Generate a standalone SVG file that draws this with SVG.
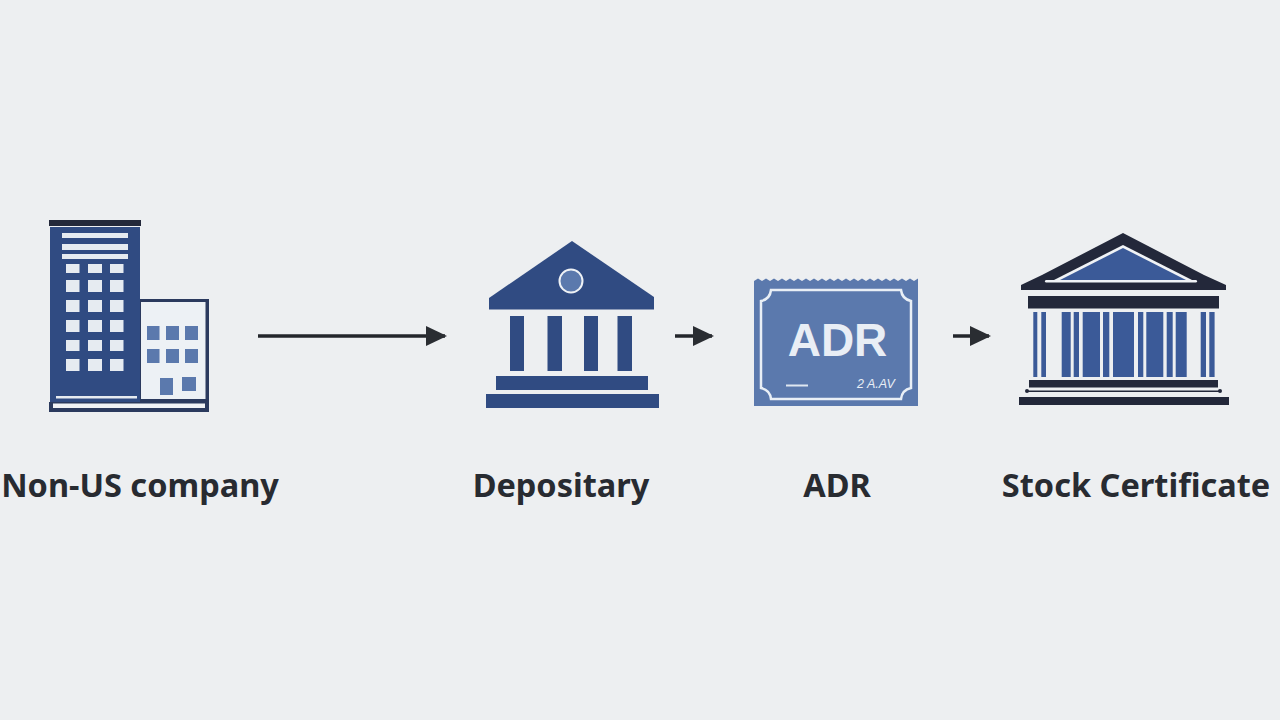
<svg xmlns="http://www.w3.org/2000/svg" width="1280" height="720" viewBox="0 0 1280 720">
<style>
.navy{fill:#304b82}.blue{fill:#5b79ad}.dark{fill:#23283a}.lt{fill:#e6ebf1}.col{fill:#3b5a98}
.w{fill:#edf1f5}
.lab{font-family:"Noto Sans","Open Sans",sans-serif;font-weight:700;font-size:32.500px;fill:#282b31;text-anchor:middle}
.conn{stroke:#23262b;stroke-width:3.500;fill:none}
</style>
<defs>
<marker id="a" markerUnits="userSpaceOnUse" markerWidth="22" markerHeight="22" refX="19" refY="11" orient="auto"><path d="M0,1L21,11L0,21Z" fill="#2a2d32"/></marker>
</defs>
<rect width="1280" height="720" fill="#edeff1"/>
<g id="connectors">
<line class="conn" x1="258" y1="336" x2="445" y2="336" marker-end="url(#a)"/>
<line class="conn" x1="675" y1="336" x2="712" y2="336" marker-end="url(#a)"/>
<line class="conn" x1="953" y1="336" x2="989" y2="336" marker-end="url(#a)"/>
</g>
<g id="non-us-company">
<rect class="dark" x="49" y="220" width="92" height="6"/>
<rect class="navy" x="50" y="227" width="90" height="176"/>
<g class="lt">
<rect x="62" y="233" width="66" height="5"/><rect x="62" y="244" width="66" height="6"/><rect x="62" y="254" width="66" height="5"/>
<rect x="66" y="264" width="13.500" height="9"/><rect x="88" y="264" width="14" height="9"/><rect x="110" y="264" width="13.500" height="9"/>
<rect x="66" y="280" width="13.500" height="12"/><rect x="88" y="280" width="14" height="12"/><rect x="110" y="280" width="13.500" height="12"/>
<rect x="66" y="300" width="13.500" height="12"/><rect x="88" y="300" width="14" height="12"/><rect x="110" y="300" width="13.500" height="12"/>
<rect x="66" y="320" width="13.500" height="12"/><rect x="88" y="320" width="14" height="12"/><rect x="110" y="320" width="13.500" height="12"/>
<rect x="66" y="340" width="13.500" height="11"/><rect x="88" y="340" width="14" height="11"/><rect x="110" y="340" width="13.500" height="11"/>
<rect x="66" y="359" width="13.500" height="12"/><rect x="88" y="359" width="14" height="12"/><rect x="110" y="359" width="13.500" height="12"/>
<rect x="56" y="396" width="81" height="2.500"/>
</g>
<rect x="140" y="299" width="69" height="105" fill="#2b3a5e"/>
<rect class="w" x="141" y="302" width="64.500" height="97"/>
<g class="blue">
<rect x="147" y="326" width="12.500" height="14"/><rect x="166" y="326" width="13" height="14"/><rect x="185" y="326" width="13" height="14"/>
<rect x="147" y="349" width="12.500" height="14"/><rect x="166" y="349" width="13" height="14"/><rect x="185" y="349" width="13" height="14"/>
<rect x="160" y="378" width="13" height="17"/><rect x="182" y="377" width="14" height="14"/>
</g>
<rect x="49" y="402" width="160" height="10" fill="#2b3a5e"/>
<rect x="53" y="403.500" width="152" height="4.500" fill="#f1f3f6"/>
</g>
<g id="depositary">
<path class="navy" d="M572,241L654,297V309.500H489V298Z"/>
<circle cx="571" cy="281" r="11.500" class="blue" stroke="#eef1f5" stroke-width="2"/>
<g class="navy">
<rect x="510" y="316" width="14" height="55"/><rect x="547.500" y="316" width="14.500" height="55"/><rect x="584" y="316" width="14" height="55"/><rect x="617.500" y="316" width="14.500" height="55"/>
<rect x="496" y="376" width="152" height="14"/><rect x="486" y="394" width="173" height="14"/>
</g>
</g>
<g id="adr">
<path class="blue" d="M754,281L758,278.500L762,281L766,278.500L770,281L774,278.500L778,281L782,278.500L786,281L790,278.500L794,281L798,278.500L802,281L806,278.500L810,281L814,278.500L818,281L822,278.500L826,281L830,278.500L834,281L838,278.500L842,281L846,278.500L850,281L854,278.500L858,281L862,278.500L866,281L870,278.500L874,281L878,278.500L882,281L886,278.500L890,281L894,278.500L898,281L902,278.500L906,281L910,278.500L914,281L918,278.500V406H754Z"/>
<path d="M771,290H901Q902,299 911,301V388Q902,390 901,399H771Q770,390 761,388V301Q770,299 771,290Z" fill="none" stroke="#e9eff6" stroke-width="2.500"/>
<text x="837.500" y="356" text-anchor="middle" font-family="'Liberation Sans',Arial,sans-serif" font-weight="700" font-size="46" fill="#e9eef5">ADR</text>
<rect x="786" y="384.500" width="22" height="2" fill="#dfe7f1"/>
<text x="857" y="388" font-family="'Liberation Sans',Arial,sans-serif" font-style="italic" font-size="12.500" fill="#e9eef5">2 A.AV</text>
</g>
<g id="stock-certificate">
<path class="dark" d="M1021,285L1042,275L1123,233L1204,275L1226,285V290H1021Z"/>
<rect x="1045" y="280" width="152" height="2.500" rx="1.200" fill="#f0f3f6"/>
<path d="M1123,245L1052,281H1194Z" fill="#f0f3f6"/>
<path class="col" d="M1123,248L1060,280H1186Z"/>
<rect class="dark" x="1028" y="296" width="191" height="12.500"/>
<g class="col">
<rect x="1033.300" y="312" width="4" height="65"/><rect x="1041.300" y="312" width="4.700" height="65"/><rect x="1061.700" y="312" width="9" height="65"/><rect x="1073.700" y="312" width="5.300" height="65"/><rect x="1082.700" y="312" width="17.300" height="65"/><rect x="1103" y="312" width="6.300" height="65"/><rect x="1113" y="312" width="21" height="65"/><rect x="1138" y="312" width="5.300" height="65"/><rect x="1146.300" y="312" width="17" height="65"/><rect x="1166.700" y="312" width="6" height="65"/><rect x="1175.700" y="312" width="11" height="65"/><rect x="1200.700" y="312" width="5.300" height="65"/><rect x="1209.300" y="312" width="5.300" height="65"/>
</g>
<rect class="dark" x="1029" y="380" width="189" height="7.500"/>
<rect class="dark" x="1027" y="390.500" width="193" height="1.500"/>
<circle class="dark" cx="1027" cy="391" r="2"/><circle class="dark" cx="1220" cy="391" r="2"/>
<rect class="dark" x="1019" y="397" width="210" height="8"/>
</g>
<g id="labels">
<text class="lab" x="140" y="497">Non-US company</text>
<text class="lab" x="561" y="497">Depositary</text>
<text class="lab" x="837" y="497">ADR</text>
<text class="lab" x="1136" y="497">Stock Certificate</text>
</g>
</svg>
